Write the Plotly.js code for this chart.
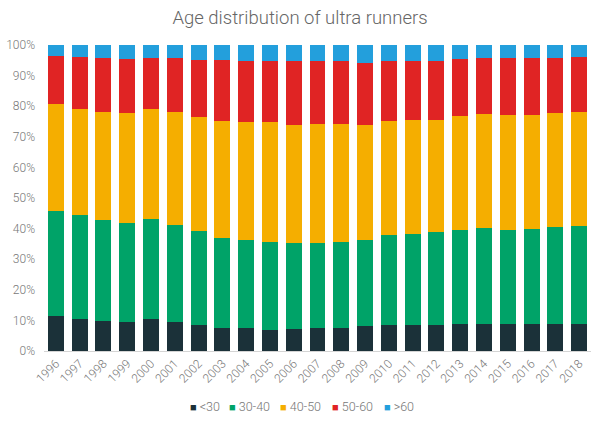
<!DOCTYPE html>
<html>
<head>
<meta charset="utf-8">
<script src="https://cdn.plot.ly/plotly-3.0.1.min.js"></script>
<style>
  html, body { margin: 0; padding: 0; background: #fff; }
  #chart { width: 600px; height: 421px; }
</style>
</head>
<body>
<div id="chart"></div>
<script>
// Share of ultra runners per age group, by year (percent)
const years = ['1996','1997','1998','1999','2000','2001','2002','2003','2004','2005','2006','2007',
               '2008','2009','2010','2011','2012','2013','2014','2015','2016','2017','2018'];

const under30 = [11.4,10.4,9.8,9.5,10.4,9.5,8.5,7.5,7.5,6.9,7.2,7.5,7.5,8.2,8.5,8.5,8.5,8.8,8.8,8.8,8.8,8.8,8.8];
const age30to40 = [34.3,34.0,33.0,32.3,32.7,31.6,30.7,29.4,28.7,28.7,28.1,27.8,28.1,28.0,29.4,29.7,30.3,30.7,31.4,30.7,31.0,31.7,32.0];
const age40to50 = [34.9,34.6,35.2,35.9,35.9,36.9,37.2,38.2,38.6,39.2,38.5,38.8,38.5,37.6,37.2,37.2,36.6,37.2,37.2,37.5,37.2,37.2,37.2];
const age50to60 = [15.7,17.0,17.6,17.6,16.6,17.6,18.6,19.9,19.9,19.9,20.9,20.6,20.6,20.2,19.6,19.3,19.3,18.6,18.2,18.6,18.6,17.9,18.0];
const over60 = [3.7,4.0,4.4,4.7,4.4,4.4,5.0,5.0,5.3,5.3,5.3,5.3,5.3,6.0,5.3,5.3,5.3,4.7,4.4,4.4,4.4,4.4,4.0];

const groupNames = ['<30','30-40','40-50','50-60','>60'];
const groupValues = [under30, age30to40, age40to50, age50to60, over60];
const groupColors = ['#1b3139','#00a368','#f5ae00','#e02424','#239fdc'];

const traces = groupNames.map((name, i) => ({
  type: 'bar',
  name: name,
  x: years,
  y: groupValues[i],
  marker: { color: groupColors[i], line: { width: 0 } },
  hoverinfo: 'x+y+name'
}));

// Compact legend row under the chart: small coloured square followed by the label
const legendStarts = [0.2637, 0.3352, 0.4286, 0.522, 0.6172];
const legendItems = groupNames.map((name, i) => ({
  xref: 'paper', yref: 'paper',
  x: legendStarts[i], xanchor: 'left',
  y: -0.183, yanchor: 'middle',
  showarrow: false,
  text: '<span style="color:' + groupColors[i] + ';font-size:11px">■</span> ' +
        name.replace('<', '&lt;').replace('>', '&gt;'),
  font: { family: 'Roboto, sans-serif', weight: 300, size: 12.5, color: '#777777' }
}));

const layout = {
  width: 600,
  height: 421,
  barmode: 'stack',
  bargap: 0.33,
  paper_bgcolor: '#ffffff',
  plot_bgcolor: '#ffffff',
  font: { family: 'Roboto, sans-serif', weight: 300, color: '#777777', size: 12 },
  title: {
    text: 'Age distribution of ultra runners',
    font: { family: 'Roboto, sans-serif', weight: 300, size: 18.5, color: '#666666' },
    x: 0.5, xanchor: 'center', y: 0.958, yanchor: 'middle'
  },
  margin: { l: 44, r: 9, t: 45, b: 70 },
  xaxis: {
    type: 'category',
    automargin: false,
    tickangle: -45,
    tickfont: { size: 12, color: '#777777' },
    showline: true,
    linecolor: '#d4d4d4',
    linewidth: 1,
    ticks: '',
    showgrid: false
  },
  yaxis: {
    automargin: false,
    range: [0, 100],
    dtick: 10,
    ticksuffix: '%',
    ticklabelstandoff: 8,
    tickfont: { size: 12, color: '#777777' },
    showgrid: false,
    zeroline: false,
    showline: false,
    ticks: ''
  },
  annotations: legendItems,
  showlegend: false
};

Plotly.newPlot('chart', traces, layout, { displayModeBar: false, staticPlot: true });
</script>
</body>
</html>
